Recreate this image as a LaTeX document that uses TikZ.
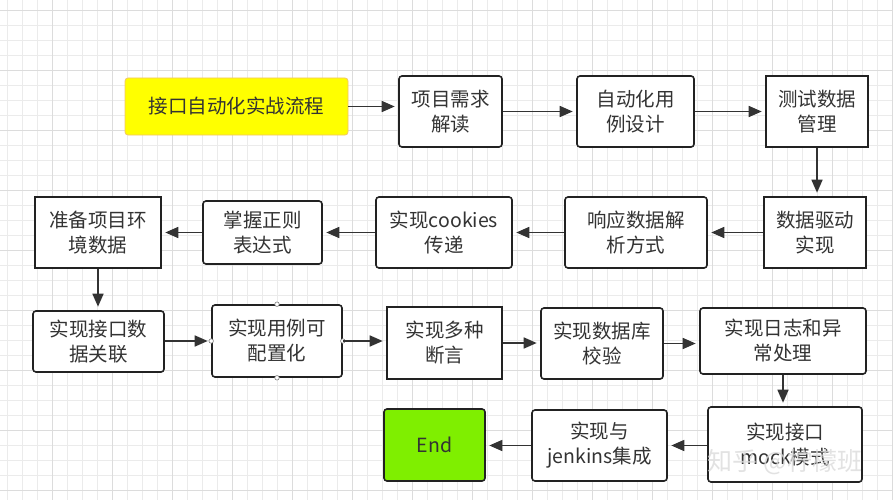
\documentclass[tikz,border=0pt]{standalone}
\usepackage{fontspec}
\setmainfont{Noto Sans CJK SC}
\usetikzlibrary{arrows.meta}
\definecolor{ink}{HTML}{333333}
\definecolor{edge}{HTML}{222222}
\definecolor{gridc}{HTML}{EBEBEB}
\definecolor{gridd}{HTML}{DCDCDC}
\definecolor{yel}{HTML}{FFFF00}
\definecolor{yelb}{HTML}{F2C46A}
\definecolor{grn}{HTML}{7FEF00}
\begin{document}
\begin{tikzpicture}[x=1pt,y=-1pt,
  box/.style={draw=edge,line width=1.6pt,rounded corners=3pt,fill=white,text=ink,
    align=center,inner sep=0pt,font=\fontsize{19.5}{25}\selectfont},
  sqbox/.style={box,rounded corners=0pt},
  flow/.style={draw=ink,line width=1.6pt,shorten >=3.5pt,-{Triangle[length=13pt,width=11pt]}},
  handle/.style={circle,draw=gray,fill=white,line width=0.6pt,inner sep=0pt,minimum size=4.5pt},
  wm/.style={font=\fontsize{25}{25}\selectfont,inner sep=0pt}]
\useasboundingbox (0,0) rectangle (893,500);
\fill[white] (0,0) rectangle (893,500);
% grid
\foreach \i in {0,...,59} {
  \pgfmathsetmacro{\xx}{7+15*\i}
  \draw[gridc,line width=0.6pt] (\xx,0) -- (\xx,500);
}
\foreach \j in {0,...,33} {
  \pgfmathsetmacro{\yy}{10+15*\j}
  \draw[gridc,line width=0.6pt] (0,\yy) -- (893,\yy);
}
\foreach \i in {0,...,14} {
  \pgfmathsetmacro{\xx}{52+60*\i}
  \draw[gridd,line width=0.8pt] (\xx,0) -- (\xx,500);
}
\foreach \j in {0,...,8} {
  \pgfmathsetmacro{\yy}{10+60*\j}
  \draw[gridd,line width=0.8pt] (0,\yy) -- (893,\yy);
}
% nodes
\node[box,draw=yelb,line width=0.8pt,fill=yel,minimum width=223pt,minimum height=57pt] (start) at (236.5,106.5) {接口自动化实战流程};
\node[box,minimum width=103pt,minimum height=71pt] (b1) at (450.5,111.5) {项目需求\\解读};
\node[box,minimum width=117pt,minimum height=71pt] (b2) at (635.5,111.5) {自动化用\\例设计};
\node[sqbox,minimum width=102pt,minimum height=71pt] (b3) at (817,111.5) {测试数据\\管理};
\node[sqbox,minimum width=102pt,minimum height=71pt] (b4) at (815,232.5) {数据驱动\\实现};
\node[box,minimum width=142pt,minimum height=71pt] (b5) at (636,232.5) {响应数据解\\析方式};
\node[box,minimum width=136pt,minimum height=71pt] (b6) at (444,232.5) {实现cookies\\传递};
\node[box,minimum width=119pt,minimum height=63pt] (b7) at (262.5,232.5) {掌握正则\\表达式};
\node[sqbox,minimum width=126pt,minimum height=71pt] (b8) at (98,232.5) {准备项目环\\境数据};
\node[box,minimum width=131pt,minimum height=61pt] (b9) at (98.5,341.5) {实现接口数\\据关联};
\node[box,minimum width=130pt,minimum height=72pt] (b10) at (277,341) {实现用例可\\配置化};
\node[sqbox,minimum width=115pt,minimum height=72pt] (b11) at (444.5,343) {实现多种\\断言};
\node[box,minimum width=122pt,minimum height=71pt] (b12) at (602,343.5) {实现数据库\\校验};
\node[box,minimum width=166pt,minimum height=66pt] (b13) at (783,341) {实现日志和异\\常处理};
\node[box,minimum width=154pt,minimum height=75pt] (b14) at (785,444.5) {实现接口\\mock模式};
\node[box,minimum width=135pt,minimum height=71pt] (b15) at (599.5,445.5) {实现与\\jenkins集成};
\node[box,fill=grn,minimum width=101pt,minimum height=72pt] (end) at (434.5,445) {End};
% handles
\node[handle] (h1) at (b10.north) {};
\node[handle] (h2) at (b10.south) {};
\node[handle] (h3) at (b10.east) {};
\node[handle] (h4) at (b10.west) {};
% connectors
\draw[flow] (start.east) -- (start.east -| b1.west);
\draw[flow] (b1.east) -- (b2.west);
\draw[flow] (b2.east) -- (b2.east -| b3.west);
\draw[flow] (b3.south) -- (b3.south |- b4.north);
\draw[flow] (b4.west) -- (b5.east);
\draw[flow] (b5.west) -- (b6.east);
\draw[flow] (b6.west) -- (b7.east);
\draw[flow] (b7.west) -- (b8.east);
\draw[flow] (b8.south) -- (b8.south |- b9.north);
\draw[flow] (b9.east |- b10.west) -- (b10.west);
\draw[flow] (b10.east) -- (b10.east -| b11.west);
\draw[flow] (b11.east) -- (b11.east -| b12.west);
\draw[flow] (b12.east) -- (b12.east -| b13.west);
\draw[flow] (b13.south) -- (b13.south |- b14.north);
\draw[flow] (b14.west |- b15.east) -- (b15.east);
\draw[flow] (b15.west) -- (b15.west -| end.east);
% watermark
\node[wm,text=white!72!gray,opacity=0.8] (wm) at (785,462) {知乎 @柠檬班};
\end{tikzpicture}
\end{document}
